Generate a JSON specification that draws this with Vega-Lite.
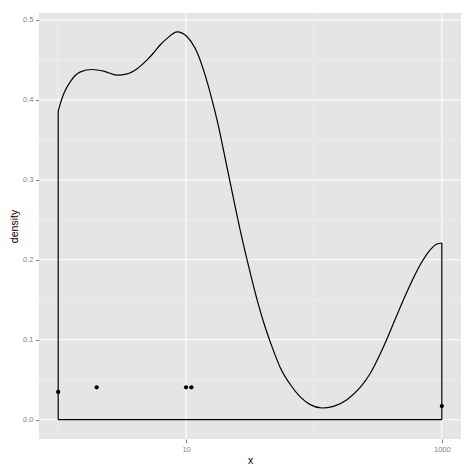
{
  "$schema": "https://vega.github.io/schema/vega-lite/v6.json",
  "width": 422,
  "height": 426,
  "autosize": {"type": "none"},
  "padding": {"left": 39, "top": 13, "right": 13, "bottom": 35},
  "background": "white",
  "config": {
    "view": {"fill": "#E5E5E5", "stroke": null},
    "font": "Liberation Sans",
    "axis": {
      "grid": false, "domain": false,
      "tickColor": "#7F7F7F", "tickSize": 3.5, "tickWidth": 1,
      "labelColor": "#7F7F7F", "labelFontSize": 7.5, "labelFont": "Liberation Sans",
      "titleFontSize": 10.5, "titleFontWeight": "normal", "titleColor": "#000000",
      "titleFont": "Liberation Sans"
    }
  },
  "datasets": {
    "vminor": [{"v": 1}, {"v": 100}],
    "vmajor": [{"v": 10}, {"v": 1000}],
    "hminor": [{"h": 0.05}, {"h": 0.15}, {"h": 0.25}, {"h": 0.35}, {"h": 0.45}],
    "hmajor": [{"h": 0.0}, {"h": 0.1}, {"h": 0.2}, {"h": 0.3}, {"h": 0.4}, {"h": 0.5}],
    "edges": [
      {"xa": 1, "ya": 0, "xb": 1, "yb": 0.386},
      {"xa": 1, "ya": 0, "xb": 1000, "yb": 0},
      {"xa": 1000, "ya": 0, "xb": 1000, "yb": 0.221}
    ],
    "curve": [
      {"x": 1, "density": 0.386},
      {"x": 1.042, "density": 0.396},
      {"x": 1.107, "density": 0.408},
      {"x": 1.247, "density": 0.423},
      {"x": 1.493, "density": 0.435},
      {"x": 1.845, "density": 0.438},
      {"x": 2.27, "density": 0.436},
      {"x": 2.891, "density": 0.431},
      {"x": 3.459, "density": 0.4325},
      {"x": 4.14, "density": 0.439},
      {"x": 4.955, "density": 0.45},
      {"x": 5.585, "density": 0.459},
      {"x": 6.295, "density": 0.469},
      {"x": 7.112, "density": 0.477},
      {"x": 8.511, "density": 0.485},
      {"x": 10.19, "density": 0.479},
      {"x": 11.83, "density": 0.464},
      {"x": 12.53, "density": 0.455},
      {"x": 14.16, "density": 0.43},
      {"x": 15.96, "density": 0.4},
      {"x": 17.99, "density": 0.366},
      {"x": 20.28, "density": 0.326},
      {"x": 22.18, "density": 0.296},
      {"x": 26.55, "density": 0.2365},
      {"x": 30.83, "density": 0.192},
      {"x": 36.06, "density": 0.149},
      {"x": 41.69, "density": 0.115},
      {"x": 48.31, "density": 0.086},
      {"x": 54.58, "density": 0.065},
      {"x": 65.31, "density": 0.044},
      {"x": 78.16, "density": 0.0285},
      {"x": 93.54, "density": 0.0188},
      {"x": 115.6, "density": 0.0146},
      {"x": 142.2, "density": 0.0167},
      {"x": 181.1, "density": 0.025},
      {"x": 230.1, "density": 0.0403},
      {"x": 275.4, "density": 0.0578},
      {"x": 349.9, "density": 0.0911},
      {"x": 472.1, "density": 0.1404},
      {"x": 564.9, "density": 0.1684},
      {"x": 676.1, "density": 0.1934},
      {"x": 810.9, "density": 0.2124},
      {"x": 914.1, "density": 0.2198},
      {"x": 1000, "density": 0.221}
    ],
    "points": [
      {"x": 1, "density": 0.0346},
      {"x": 2, "density": 0.0404},
      {"x": 10, "density": 0.0404},
      {"x": 11, "density": 0.0404},
      {"x": 1000, "density": 0.017}
    ]
  },
  "layer": [
    {
      "data": {"name": "vminor"},
      "mark": {"type": "rule", "color": "#F2F2F2", "strokeWidth": 0.6},
      "encoding": {
        "x": {
          "field": "v", "type": "quantitative",
          "scale": {"type": "log", "domain": [0.7079, 1412.5], "nice": false, "zero": false},
          "axis": {"values": [10, 1000], "format": "d", "labelPadding": 3, "title": "x", "titleBaseline": "alphabetic", "titleY": 24.5}
        }
      }
    },
    {
      "data": {"name": "hminor"},
      "mark": {"type": "rule", "color": "#F2F2F2", "strokeWidth": 0.6},
      "encoding": {
        "y": {
          "field": "h", "type": "quantitative",
          "scale": {"domain": [-0.0242, 0.5087], "nice": false, "zero": false},
          "axis": {"values": [0, 0.1, 0.2, 0.3, 0.4, 0.5], "format": ".1f", "labelPadding": 2.5, "title": "density", "titleBaseline": "alphabetic", "titleX": -22}
        }
      }
    },
    {
      "data": {"name": "vmajor"},
      "mark": {"type": "rule", "color": "#FFFFFF", "strokeWidth": 1.1},
      "encoding": {
        "x": {"field": "v", "type": "quantitative"}
      }
    },
    {
      "data": {"name": "hmajor"},
      "mark": {"type": "rule", "color": "#FFFFFF", "strokeWidth": 1.1},
      "encoding": {
        "y": {"field": "h", "type": "quantitative"}
      }
    },
    {
      "data": {"name": "edges"},
      "mark": {"type": "rule", "color": "#000000", "strokeWidth": 1.2},
      "encoding": {
        "x": {"field": "xa", "type": "quantitative"},
        "x2": {"field": "xb"},
        "y": {"field": "ya", "type": "quantitative"},
        "y2": {"field": "yb"}
      }
    },
    {
      "data": {"name": "curve"},
      "mark": {"type": "line", "color": "#000000", "strokeWidth": 1.2, "interpolate": "monotone"},
      "encoding": {
        "x": {"field": "x", "type": "quantitative"},
        "y": {"field": "density", "type": "quantitative"}
      }
    },
    {
      "data": {"name": "points"},
      "mark": {"type": "circle", "color": "#000000", "opacity": 1, "size": 18},
      "encoding": {
        "x": {"field": "x", "type": "quantitative"},
        "y": {"field": "density", "type": "quantitative"}
      }
    }
  ]
}
